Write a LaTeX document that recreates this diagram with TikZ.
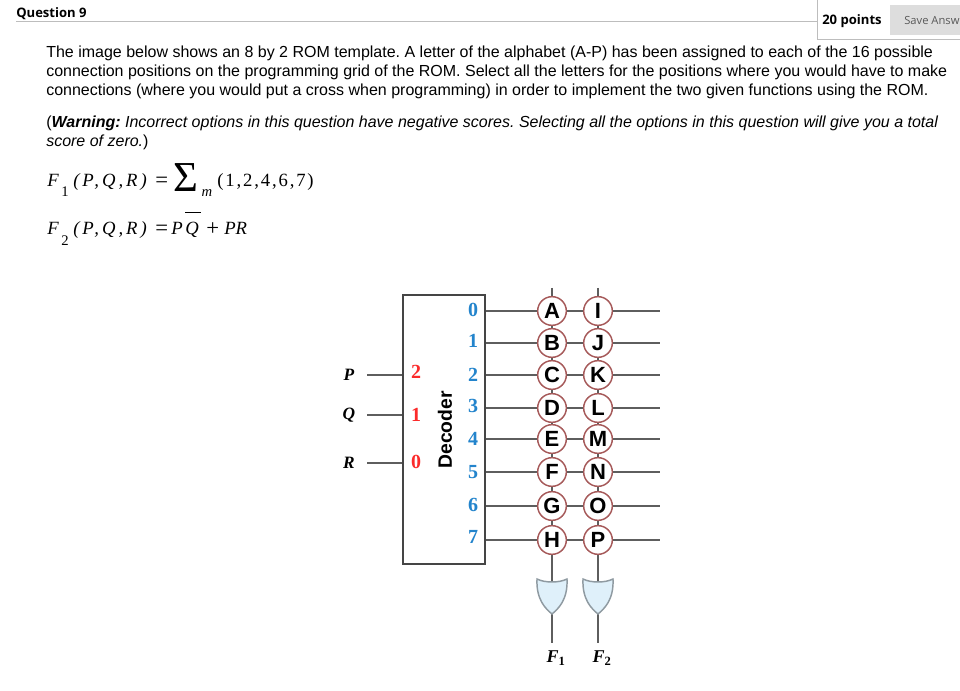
\documentclass[tikz,border=0pt]{standalone}
\usepackage{fontspec}
\setmainfont{Liberation Sans}
\newfontfamily\eqnfont{Liberation Serif}
\newfontfamily\headfont{Open Sans}
\definecolor{wiregray}{HTML}{5E5E5E}
\definecolor{boxgray}{HTML}{454545}
\definecolor{ringred}{HTML}{A65A5A}
\definecolor{inblue}{HTML}{2384CC}
\definecolor{inred}{HTML}{FB2B2B}
\definecolor{gatefill}{HTML}{DFF0FA}
\definecolor{gateline}{HTML}{8F9AA1}
\definecolor{rulegray}{HTML}{BDBDBD}
\definecolor{btngray}{HTML}{DDDDDD}
\frenchspacing
\begin{document}
\begin{tikzpicture}
[x=.75pt,y=-.75pt,
wire/.style={draw=wiregray,line width=1.6pt},
xpoint/.style={circle,draw=ringred,fill=white,line width=1.1pt,minimum size=21.5pt,inner sep=0pt,font=\fontsize{16.5}{16.5}\selectfont\bfseries},
outnum/.style={text=inblue,font=\eqnfont\fontsize{15}{15}\selectfont\bfseries},
selnum/.style={text=inred,font=\eqnfont\fontsize{15}{15}\selectfont\bfseries},
inlabel/.style={minimum width=27pt,inner sep=0pt,font=\eqnfont\fontsize{13}{13}\selectfont\bfseries\itshape},
outlabel/.style={inner sep=0pt,font=\eqnfont\fontsize{13.5}{13.5}\selectfont\bfseries\itshape},
para/.style={anchor=north west,align=left,inner sep=0pt,font=\fontsize{12}{14.25}\selectfont},
eqn/.style={anchor=base west,inner sep=0pt,font=\eqnfont\itshape\fontsize{14}{14}\selectfont},
eqnup/.style={anchor=base west,inner sep=0pt,font=\eqnfont\fontsize{14}{14}\selectfont},
eqnop/.style={anchor=base west,inner sep=0pt,font=\eqnfont\fontsize{17}{17}\selectfont},
eqnsub/.style={anchor=base,inner sep=0pt,font=\eqnfont\fontsize{11}{11}\selectfont},
orgate/.pic={\draw [fill=gatefill,draw=gateline,line width=1.1pt] (-15,-3) .. controls (-7,1) and (7,1) .. (15,-3) .. controls (16,18) and (6,27) .. (0,32) .. controls (-6,27) and (-16,18) .. (-15,-3) -- cycle;}]
\useasboundingbox (0,0) rectangle (960,691);
\node [inner sep=0pt,anchor=base west,font=\headfont\fontsize{9.8}{10}\selectfont\bfseries] (title) at (16,18) {Question 9};
\node [draw=rulegray,line width=.8pt,minimum width=108pt,minimum height=30pt,anchor=north west] (scorebox) at (817,-1) {};
\node [inner sep=0pt,anchor=base west,font=\headfont\fontsize{9.8}{10}\selectfont\bfseries] (score) at (822,25) {20 points};
\node [fill=btngray,minimum width=53pt,minimum height=22.5pt,anchor=north west] (savebtn) at (890,5) {};
\node [inner sep=0pt,anchor=base west,text=black!65,font=\headfont\fontsize{8.4}{9}\selectfont] (save) at (904,25) {Save Answ};
\draw [rulegray,line width=.8pt] (title.base west |- 0,21.5) coordinate (rulestart) -- (rulestart -| scorebox.west);

\node [para] (intro) at (46,46) {The image below shows an 8 by 2 ROM template. A letter of the alphabet (A-P) has been assigned to each of the 16 possible\\
connection positions on the programming grid of the ROM. Select all the letters for the positions where you would have to make\\
connections (where you would put a cross when programming) in order to implement the two given functions using the ROM.};
\node [para] (warning) at (46,116) {(\textbf{\textit{Warning:}} \textit{Incorrect options in this question have negative scores. Selecting all the options in this question will give you a total}\\
\textit{score of zero.})};

\node [eqn] (f1) at (47,187) {F};
\node [eqnsub] (f1sub) at (65,197) {1};
\node [eqn] (f1args) at (73,187) {\addfontfeature{LetterSpace=16}(P,Q,R)};
\node [eqnop] (f1eq) at (155,188) {=};
\node [inner sep=0pt,font=\eqnfont\fontsize{32}{32}\selectfont] (sigma) at (186,178) {Σ};
\node [eqnsub,font=\eqnfont\itshape\fontsize{11}{11}\selectfont] (m) at (207,197) {m};
\node [eqnup] (minterms) at (217,187) {\addfontfeature{LetterSpace=10}(1,2,4,6,7)};
\node [eqn] (f2) at (47,235) {F};
\node [eqnsub] (f2sub) at (65,246) {2};
\node [eqn] (f2args) at (73,235) {\addfontfeature{LetterSpace=16}(P,Q,R)};
\node [eqnop] (f2eq) at (155,236) {=};
\node [eqn] (f2p) at (171,235) {P};
\node [eqn] (f2q) at (185,235) {Q};
\draw [line width=.7pt] (185,212) coordinate (barl) -- (201,212) coordinate (barr);
\node [eqnop] (plus) at (206,236) {+};
\node [eqn] (pr) at (224,235) {PR};

\node [draw=boxgray,line width=2.1pt,minimum width=61.5pt,minimum height=201.75pt,inner sep=0pt] (decoder) at (444,429.5) {};
\node [rotate=90,inner sep=0pt,font=\fontsize{14.5}{14.5}\selectfont\bfseries] (declabel) at (445,430) {Decoder};

\node [selnum] (s2) at (416,372) {2};
\node [selnum] (s1) at (416,415) {1};
\node [selnum] (s0) at (416,462) {0};
\node [outnum] (n0) at (473,310) {0};
\node [outnum] (n1) at (473,341) {1};
\node [outnum] (n2) at (473,375) {2};
\node [outnum] (n3) at (473,406) {3};
\node [outnum] (n4) at (473,439) {4};
\node [outnum] (n5) at (473,472) {5};
\node [outnum] (n6) at (473,505) {6};
\node [outnum] (n7) at (473,537) {7};

\node [inlabel] (inP) at (349,375) {P};
\node [inlabel] (inQ) at (349,415) {Q};
\node [inlabel] (inR) at (349,463) {R};
\draw [wire] (inP) -- (inP -| decoder.west);
\draw [wire] (inQ) -- (inQ -| decoder.west);
\draw [wire] (inR) -- (inR -| decoder.west);

\coordinate (wend) at (660,0);
\coordinate (top1) at (552,288);
\coordinate (top2) at (598,288);
\coordinate (in1) at (552,582);
\coordinate (in2) at (598,582);
\coordinate (out1) at (552,614);
\coordinate (out2) at (598,614);
\coordinate (end1) at (552,643);
\coordinate (end2) at (598,643);

\node [xpoint] (A) at (552,311) {A};
\node [xpoint] (B) at (552,343) {B};
\node [xpoint] (C) at (552,375) {C};
\node [xpoint] (D) at (552,408) {D};
\node [xpoint] (E) at (552,439) {E};
\node [xpoint] (F) at (552,472) {F};
\node [xpoint] (G) at (552,506) {G};
\node [xpoint] (H) at (552,540) {H};
\node [xpoint] (I) at (598,311) {I};
\node [xpoint] (J) at (598,343) {J};
\node [xpoint] (K) at (598,375) {K};
\node [xpoint] (L) at (598,408) {L};
\node [xpoint] (M) at (598,439) {M};
\node [xpoint] (N) at (598,472) {N};
\node [xpoint] (O) at (598,506) {O};
\node [xpoint] (Q) at (598,540) {P};

\draw [wire] (A -| decoder.east) -- (A) -- (I) -- (I -| wend);
\draw [wire] (B -| decoder.east) -- (B) -- (J) -- (J -| wend);
\draw [wire] (C -| decoder.east) -- (C) -- (K) -- (K -| wend);
\draw [wire] (D -| decoder.east) -- (D) -- (L) -- (L -| wend);
\draw [wire] (E -| decoder.east) -- (E) -- (M) -- (M -| wend);
\draw [wire] (F -| decoder.east) -- (F) -- (N) -- (N -| wend);
\draw [wire] (G -| decoder.east) -- (G) -- (O) -- (O -| wend);
\draw [wire] (H -| decoder.east) -- (H) -- (Q) -- (Q -| wend);
\draw [wire] (top1) -- (A) -- (B) -- (C) -- (D) -- (E) -- (F) -- (G) -- (H) -- (in1);
\draw [wire] (top2) -- (I) -- (J) -- (K) -- (L) -- (M) -- (N) -- (O) -- (Q) -- (in2);
\draw [wire] (out1) -- (end1);
\draw [wire] (out2) -- (end2);
\pic at (in1) {orgate};
\pic at (in2) {orgate};
\node [outlabel] (F1) at (556,658) {F\textsubscript{\upshape 1}};
\node [outlabel] (F2) at (602,658) {F\textsubscript{\upshape 2}};
\end{tikzpicture}
\end{document}
